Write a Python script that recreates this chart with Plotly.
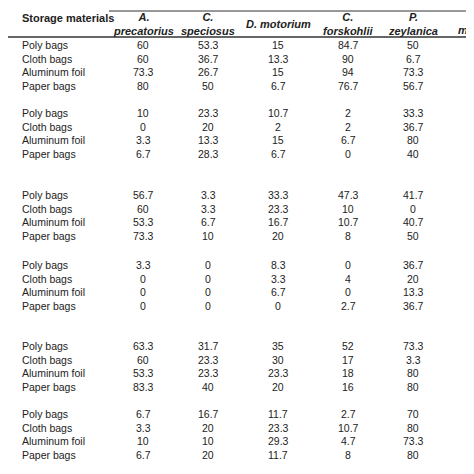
import plotly.graph_objects as go

species = ["<i>A.<br>precatorius</i>", "<i>C.<br>speciosus</i>", "<i>D. motorium</i>",
           "<i>C.<br>forskohlii</i>", "<i>P.<br>zeylanica</i>"]
materials = ["Poly bags", "Cloth bags", "Aluminum foil", "Paper bags"]

groups = [
    [["60", "53.3", "15", "84.7", "50"],
     ["60", "36.7", "13.3", "90", "6.7"],
     ["73.3", "26.7", "15", "94", "73.3"],
     ["80", "50", "6.7", "76.7", "56.7"]],
    [["10", "23.3", "10.7", "2", "33.3"],
     ["0", "20", "2", "2", "36.7"],
     ["3.3", "13.3", "15", "6.7", "80"],
     ["6.7", "28.3", "6.7", "0", "40"]],
    [["56.7", "3.3", "33.3", "47.3", "41.7"],
     ["60", "3.3", "23.3", "10", "0"],
     ["53.3", "6.7", "16.7", "10.7", "40.7"],
     ["73.3", "10", "20", "8", "50"]],
    [["3.3", "0", "8.3", "0", "36.7"],
     ["0", "0", "3.3", "4", "20"],
     ["0", "0", "6.7", "0", "13.3"],
     ["0", "0", "0", "2.7", "36.7"]],
    [["63.3", "31.7", "35", "52", "73.3"],
     ["60", "23.3", "30", "17", "3.3"],
     ["53.3", "23.3", "23.3", "18", "80"],
     ["83.3", "40", "20", "16", "80"]],
    [["6.7", "16.7", "11.7", "2.7", "70"],
     ["3.3", "20", "23.3", "10.7", "80"],
     ["10", "10", "29.3", "4.7", "73.3"],
     ["6.7", "20", "11.7", "8", "80"]],
]

footnotes = [
    "0.89; (B): 1.02; (C): AB: 2.00; 1.87; AC: 2.65; BC: 3.75; ABC: 5.31 ; Coefficient of variation: 7.32%, C. D. at 5%",
    "1.56; (B): 1.20; (C): 1.58; AB: 1.69; AC: 2.24; BC: 3.16; ABC: 4.48; Coefficient of variation: 11.31%, C. D. at 5%",
    "): 2.66; (B): 1.52; (C): 2.01; AB: 2.15; AC: 2.84; BC: 4.02; ABC: 5.69; Coefficient of variation: 7.48, C. D. at 5%",
]

col_x = [142, 207, 277, 347, 412]
group_y = [44, 112, 194, 264, 345, 413]
foot_y = [166, 319, 467]
row_step = 13.7
txt = "#222"
font = "Liberation Sans, Arial, sans-serif"

fig = go.Figure()
ann = []

ann.append(dict(x=344, y=4, text="<b>Medicinal plant species</b>", xanchor="center",
                font=dict(size=11)))
ann.append(dict(x=19, y=17, text="<b>Storage materials</b>", xanchor="left", font=dict(size=11)))
for x, s in zip(col_x, species):
    ann.append(dict(x=x, y=23, text="<b>" + s + "</b>", xanchor="center", font=dict(size=11)))
ann.append(dict(x=455, y=29, text="<b><i>mosseae</i></b>", xanchor="left", font=dict(size=11)))

for gy, g in zip(group_y, groups):
    for r, (m, vals) in enumerate(zip(materials, g)):
        y = gy + r * row_step
        ann.append(dict(x=19, y=y, text=m, xanchor="left"))
        for x, v in zip(col_x, vals):
            ann.append(dict(x=x, y=y, text=v, xanchor="center"))

for fy, f in zip(foot_y, footnotes):
    ann.append(dict(x=0, y=fy, text=f, xanchor="left", font=dict(size=10)))

for a in ann:
    a.setdefault("font", {})
    a["font"].setdefault("size", 10.5)
    a["font"].update(color=txt, family=font)
    a.update(showarrow=False, yanchor="middle", xref="x", yref="y")

fig.update_layout(
    annotations=ann,
    shapes=[
        dict(type="line", x0=108, x1=490, y0=10, y1=10, line=dict(color="#333", width=1)),
        dict(type="line", x0=-10, x1=490, y0=36, y1=36, line=dict(color="#333", width=1.5)),
    ],
    width=474, height=474,
    margin=dict(l=0, r=0, t=0, b=0),
    paper_bgcolor="white", plot_bgcolor="white",
    xaxis=dict(range=[7, 481], visible=False),
    yaxis=dict(range=[481, 7], visible=False),
    showlegend=False,
)
fig.write_html("out.html")
